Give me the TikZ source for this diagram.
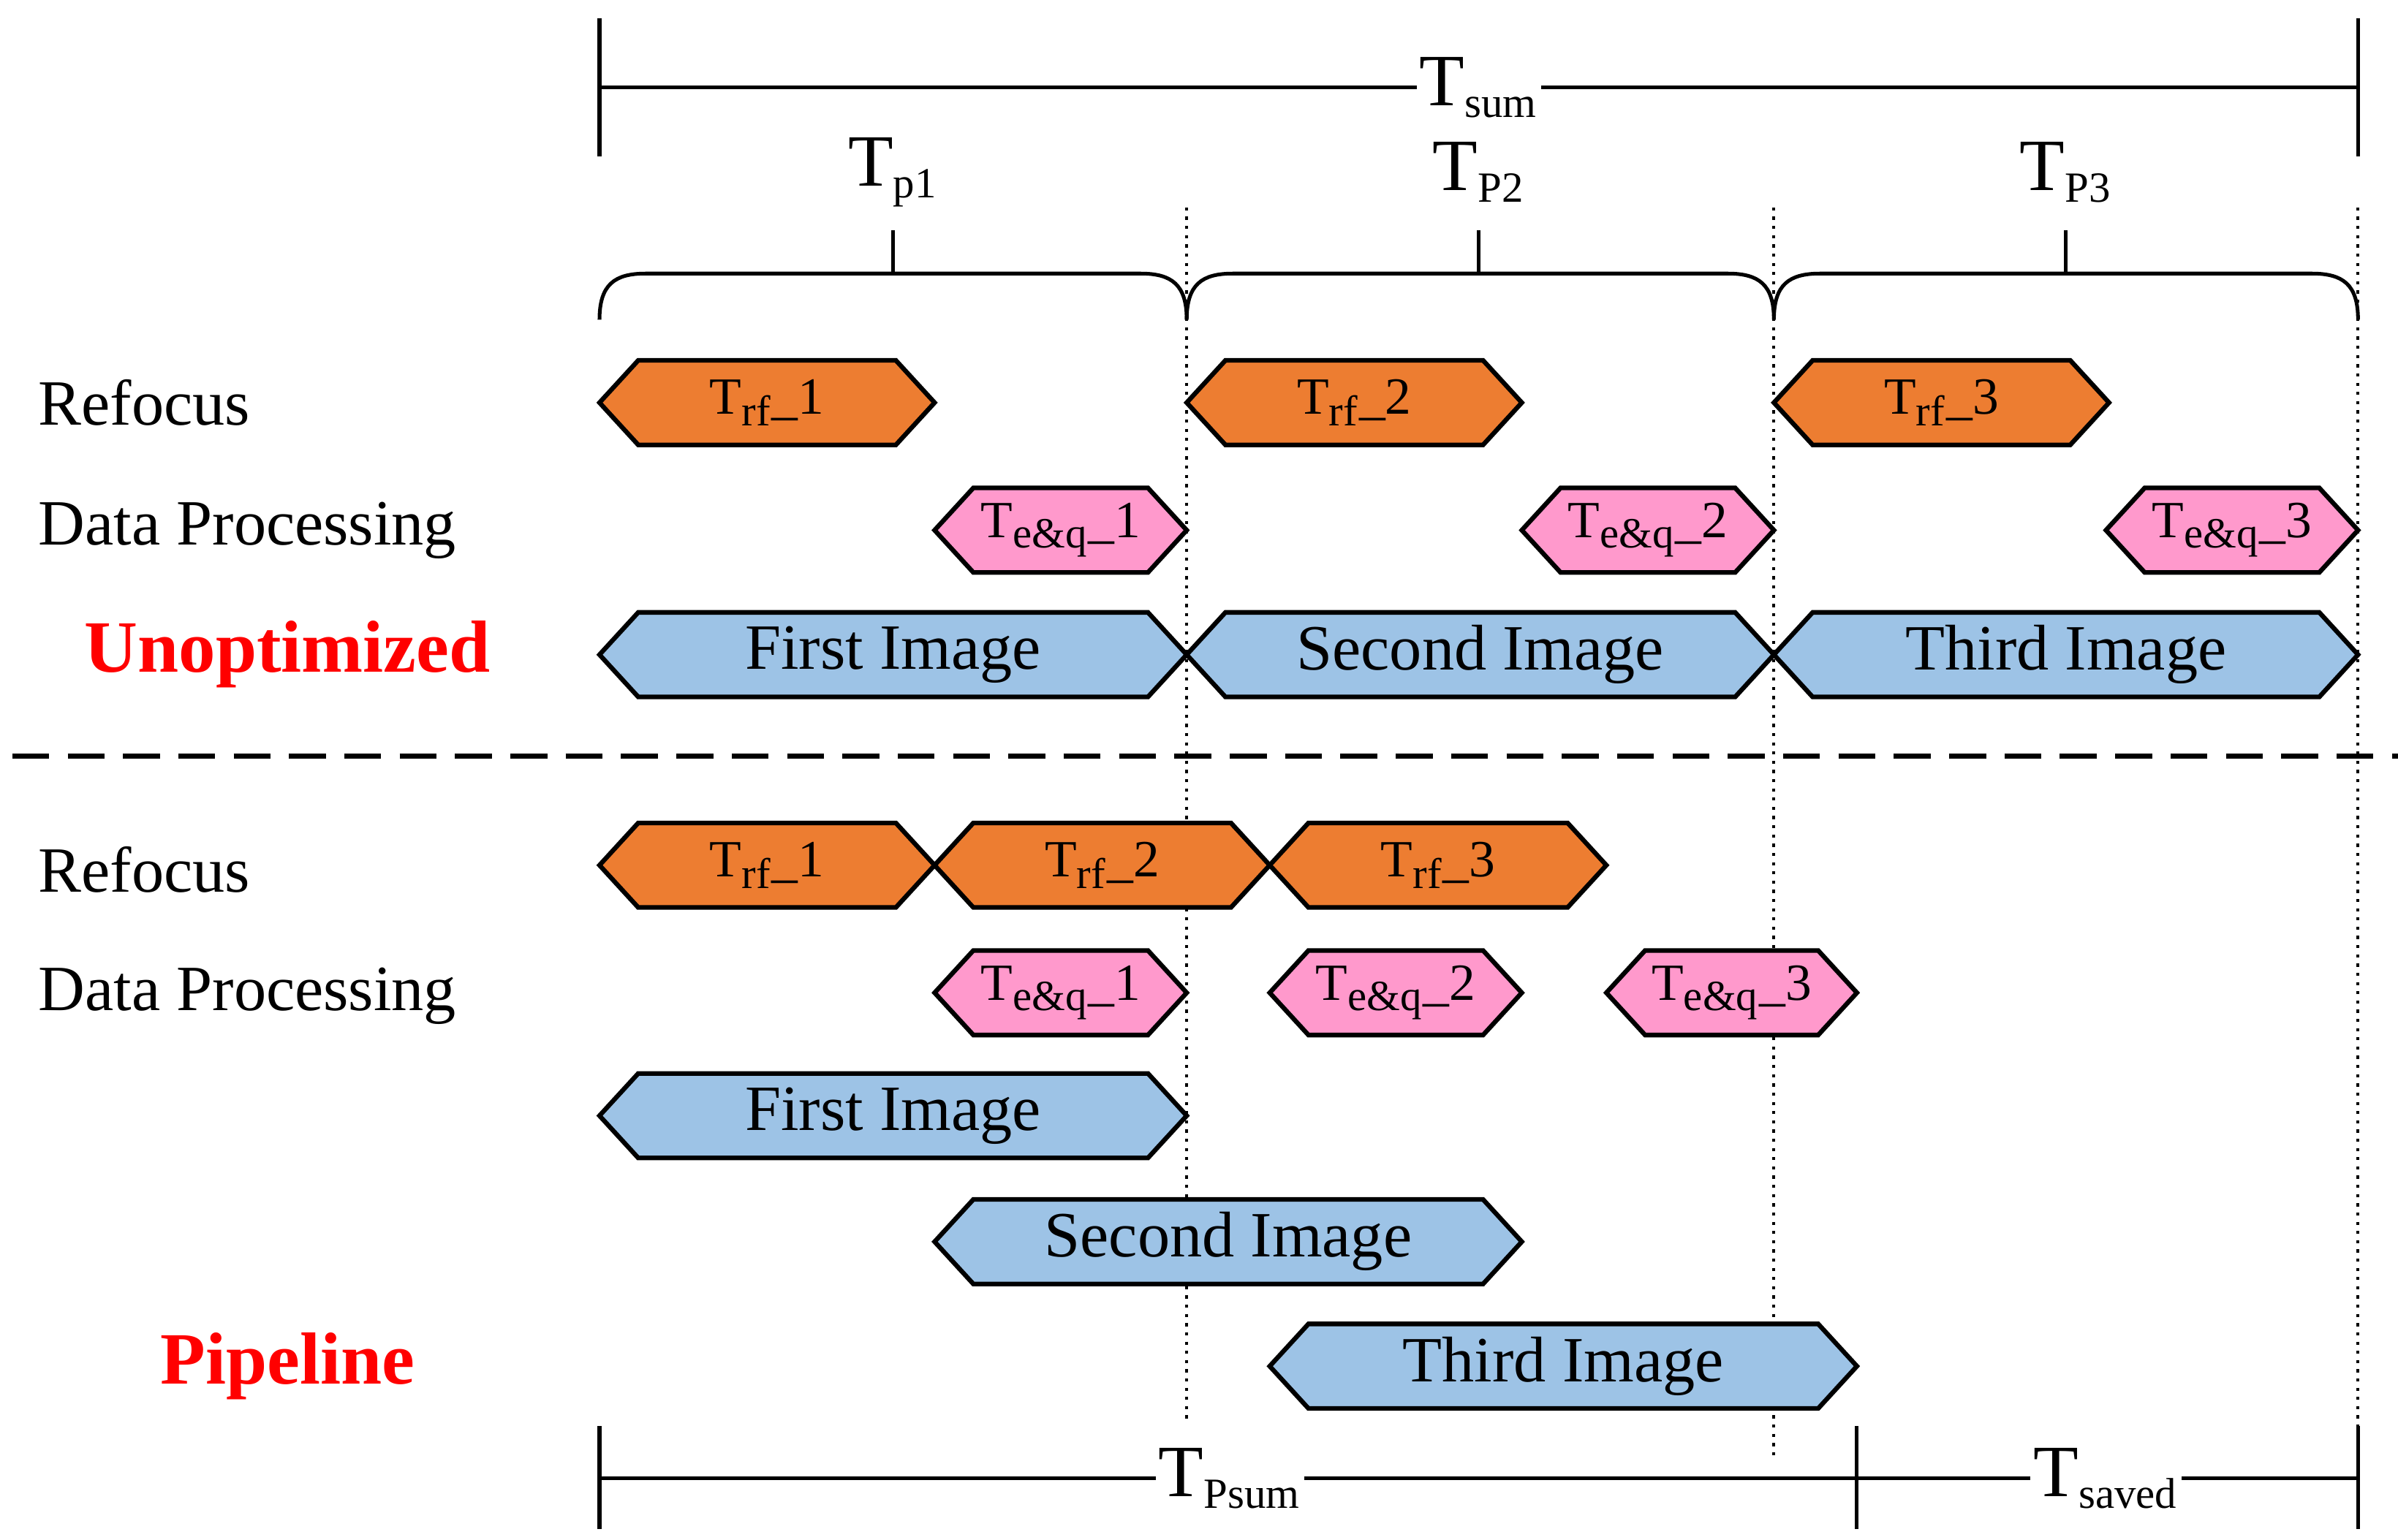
\documentclass[tikz,border=0pt]{standalone}
\usepackage{fontspec}
\setmainfont{Liberation Serif}
\usetikzlibrary{shapes.symbols}
\definecolor{orf}{HTML}{ED7D31}
\definecolor{pk}{HTML}{FF99CC}
\definecolor{bl}{HTML}{9DC3E6}
\tikzset{
 hexs/.style={signal, signal to=west and east, signal pointer angle=95, draw=black, line width=1.5pt, inner sep=0pt, minimum height=27.5pt},
 rf/.style={hexs, fill=orf, font=\fontsize{17}{17}\selectfont},
 eq/.style={hexs, fill=pk, font=\fontsize{17}{17}\selectfont},
 im/.style={hexs, fill=bl, font=\fontsize{21}{21}\selectfont},
 lab/.style={anchor=west, font=\fontsize{21}{21}\selectfont},
 red/.style={text=red, font=\fontsize{24}{24}\selectfont\bfseries},
 tl/.style={fill=white, inner sep=1pt, font=\fontsize{24}{24}\selectfont},
 ln/.style={line width=1.2pt},
 dt/.style={line width=1pt, dotted},
}
\newcommand{\hx}[6]{\pgfmathsetmacro{\w}{(#3-#2)*0.5}\pgfmathsetmacro{\c}{(#2+#3)/2}%
 \node[#5, minimum width=\w pt] (#1) at (\c,#4) {#6};}
\newcommand{\Tt}[1]{T\textsubscript{\fontsize{14}{14}\selectfont #1}}
\begin{document}
\begin{tikzpicture}[x=0.5pt,y=-0.5pt]
\useasboundingbox (0,0) rectangle (1560,1002);
% dotted
\draw[dt] (772,135) -- (772,925);
\draw[dt] (1154,135) -- (1154,948);
\draw[dt] (1534,135) -- (1534,948);
% Tsum
\coordinate (s1) at (390,57); \coordinate (s2) at (1534,57);
\draw[ln] (s1) -- (s2);
\draw[ln] (390,12) -- (390,102); \draw[ln] (1534,12) -- (1534,102);
\node[tl] (tsum) at (962,57) {\Tt{sum}};
% braces
\foreach \a/\b/\m/\t in {390/772/581/p1,772/1154/962/P2,1154/1534/1344/P3}{
 \draw[ln] (\a,208) .. controls (\a,185) and (\a+10,178) .. (\a+30,178) -- (\b-30,178) .. controls (\b-10,178) and (\b,185) .. (\b,208);
 \draw[ln] (\m,178) -- (\m,150);
 \node[font=\fontsize{24}{24}\selectfont] at (\m,112) {\Tt{\t}};
}
% labels
\node[lab] (l1) at (18,262) {Refocus};
\node[lab] (l2) at (18,345) {Data Processing};
\node[red] (l3) at (187,426) {Unoptimized};
\node[lab] (l4) at (18,566) {Refocus};
\node[lab] (l5) at (18,648) {Data Processing};
\node[red] (l6) at (187,889) {Pipeline};
% top
\hx{a1}{390}{608}{262}{rf}{\Tt{rf}\_1}
\hx{a2}{772}{990}{262}{rf}{\Tt{rf}\_2}
\hx{a3}{1154}{1372}{262}{rf}{\Tt{rf}\_3}
\hx{b1}{608}{772}{345}{eq}{\Tt{e\&q}\_1}
\hx{b2}{990}{1154}{345}{eq}{\Tt{e\&q}\_2}
\hx{b3}{1370}{1534}{345}{eq}{\Tt{e\&q}\_3}
\hx{c1}{390}{772}{426}{im}{First Image}
\hx{c2}{772}{1154}{426}{im}{Second Image}
\hx{c3}{1154}{1534}{426}{im}{Third Image}
\draw[line width=1.5pt, dash pattern=on 12pt off 6pt] (8,492) -- (1560,492);
% bottom
\hx{d1}{390}{608}{563}{rf}{\Tt{rf}\_1}
\hx{d2}{608}{826}{563}{rf}{\Tt{rf}\_2}
\hx{d3}{826}{1045}{563}{rf}{\Tt{rf}\_3}
\hx{e1}{608}{772}{646}{eq}{\Tt{e\&q}\_1}
\hx{e2}{826}{990}{646}{eq}{\Tt{e\&q}\_2}
\hx{e3}{1045}{1208}{646}{eq}{\Tt{e\&q}\_3}
\hx{f1}{390}{772}{726}{im}{First Image}
\hx{f2}{608}{990}{808}{im}{Second Image}
\hx{f3}{826}{1208}{889}{im}{Third Image}
% bottom timeline
\draw[ln] (390,962) -- (1534,962);
\foreach \x in {390,1208,1534} \draw[ln] (\x,928) -- (\x,995);
\node[tl] (tp) at (800,962) {\Tt{Psum}};
\node[tl] (ts) at (1370,962) {\Tt{saved}};
\end{tikzpicture}
\end{document}
